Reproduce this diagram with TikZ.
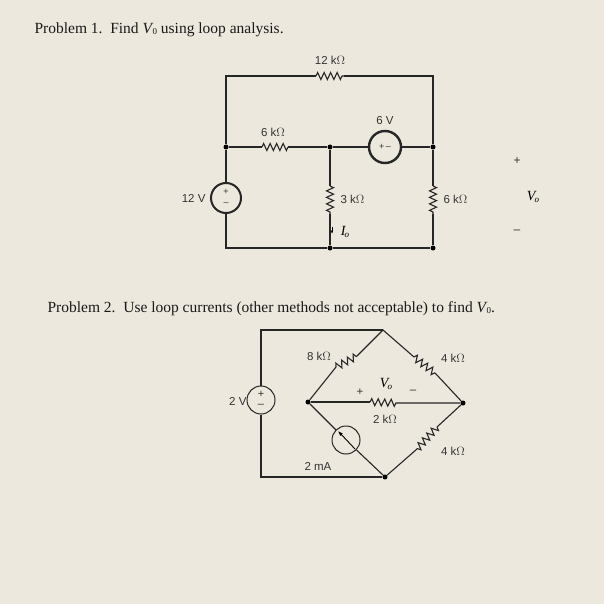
\documentclass[tikz,border=0pt]{standalone}
\usepackage{fontspec}
\setmainfont{Liberation Serif}
\newfontfamily\lab[Ligatures=TeX]{Liberation Sans}
\usetikzlibrary{decorations.pathmorphing,arrows.meta}
\begin{document}
\begin{tikzpicture}[x=1pt,y=-1pt,
 wire/.style={line width=1.1pt,draw=black!85},
 zz/.style={decorate,decoration={zigzag,segment length=6.5pt,amplitude=3.5pt}},
 src/.style={circle,draw=black!85,line width=1.2pt,minimum size=28pt,inner sep=0pt},
 dot/.style={circle,fill=black,inner sep=0pt,minimum size=5pt},
 lb/.style={font=\lab\fontsize{11.5}{13}\selectfont,text=black!80},
 ptxt/.style={font=\fontsize{15.5}{17}\selectfont,anchor=west,text=black!90}]
\fill[color={rgb,255:red,236;green,232;blue,222}] (0,0) rectangle (604,604);
\useasboundingbox (0,0) rectangle (604,604);
\node[ptxt] (p1) at (31,30) {Problem 1.\ \ Find \textit{V}\kern-1pt\raisebox{-1pt}{\small 0} using loop analysis.};
\node[ptxt] (p2) at (44,309) {Problem 2.\ \ Use loop currents (other methods not acceptable) to find \textit{V}\kern-1pt\raisebox{-1pt}{\small 0}.};
% circuit 1
\coordinate (tl) at (226,76); \coordinate (tr) at (433,76);
\node[dot] (ml) at (226,147) {}; \node[dot] (mm) at (330,147) {}; \node[dot] (mr) at (433,147) {};
\coordinate (bl) at (226,248); \node[dot] (bm) at (330,248) {}; \node[dot] (br) at (433,248) {};
\node[src,minimum size=30pt,line width=2pt] (v12) at (226,198) {};
\node[lb,font=\lab\fontsize{9}{9}\selectfont] at (226,192) {+};
\node[lb,font=\lab\fontsize{9}{9}\selectfont] at (226,204) {–};
\node[src,minimum size=32pt,line width=2.4pt] (v6) at (385,147) {};
\node[lb,font=\lab\fontsize{9}{9}\selectfont] at (385,147) {+\,–};
\draw[wire] (ml) -- (tl) -- (316,76);
\draw[wire,zz] (316,76) -- (344,76);
\draw[wire] (344,76) -- (tr) -- (mr);
\draw[wire] (ml) -- (262,147);
\draw[wire,zz] (262,147) -- (288,147);
\draw[wire] (288,147) -- (mm) -- (v6) -- (mr);
\draw[wire] (ml) -- (v12) -- (bl) -- (bm) -- (br);
\draw[wire] (mm) -- (330,186);
\draw[wire,zz] (330,186) -- (330,214);
\draw[wire] (330,214) -- (bm);
\draw[wire] (mr) -- (433,186);
\draw[wire,zz] (433,186) -- (433,214);
\draw[wire] (433,214) -- (br);
\draw[-{Latex[length=3.5pt]},line width=0.6pt] (332,227) -- (332,234);
\node[lb] at (330,60) {12 k$\Omega$};
\node[lb] at (273,132) {6 k$\Omega$};
\node[lb] at (385,121) {6 V};
\node[lb,anchor=east] at (209,198) {12 V};
\node[lb,anchor=west] at (337,199) {3 k$\Omega$};
\node[lb,anchor=west] at (440,199) {6 k$\Omega$};
\node[font=\fontsize{14}{15}\selectfont] at (345,232) {\textit{I\kern-1pt\raisebox{-2pt}{\small o}}};
\node[lb,font=\lab\fontsize{12}{13}\selectfont] at (517,161) {+};
\node[font=\fontsize{14}{15}\selectfont] at (533,197) {\textit{V\kern-1pt\raisebox{-2pt}{\small o}}};
\node[lb,font=\lab\fontsize{12}{13}\selectfont] at (517,232) {–};
% circuit 2
\coordinate (t) at (383,330);
\node[dot] (L) at (308,402) {}; \node[dot] (R) at (463,403) {}; \node[dot] (B) at (385,477) {};
\coordinate (wt) at (261,330); \coordinate (wb) at (261,477);
\node[circle,draw=black!85,line width=1pt,minimum size=28pt,inner sep=0pt] (v2) at (261,400) {};
\node[lb,font=\lab\fontsize{11}{11}\selectfont] at (261,394) {+};
\node[lb,font=\lab\fontsize{11}{11}\selectfont] at (261,406) {–};
\draw[wire] (t) -- (wt) -- (v2) -- (wb) -- (B);
\draw[wire] (L) -- (336,367);
\draw[wire,zz] (336,367) -- (357,356);
\draw[wire] (357,356) -- (t) -- (414,357);
\draw[wire,zz] (414,357) -- (436,374);
\draw[wire] (436,374) -- (R);
\draw[wire] (L) -- (370,402);
\draw[wire,zz] (370,402) -- (398,403);
\draw[wire] (398,403) -- (R) -- (437,427);
\draw[wire,zz] (437,427) -- (417,449);
\draw[wire] (417,449) -- (B);
\node[circle,draw=black!85,line width=1pt,minimum size=28pt,inner sep=0pt] (i2) at (346,440) {};
\draw[wire] (L) -- (i2) -- (B);
\draw[-{Latex[length=5pt]},line width=0.9pt] (355,449) -- (338,431);
\node[lb] at (319,356) {8 k$\Omega$};
\node[lb] at (453,358) {4 k$\Omega$};
\node[lb] at (453,451) {4 k$\Omega$};
\node[lb] at (385,419) {2 k$\Omega$};
\node[lb] at (318,466) {2 mA};
\node[lb,anchor=east] at (250,401) {2 V};
\node[lb] at (360,392) {+};
\node[lb] at (413,392) {–};
\node[font=\fontsize{14}{15}\selectfont] at (386,384) {\textit{V\kern-1pt\raisebox{-2pt}{\small o}}};
\end{tikzpicture}
\end{document}
